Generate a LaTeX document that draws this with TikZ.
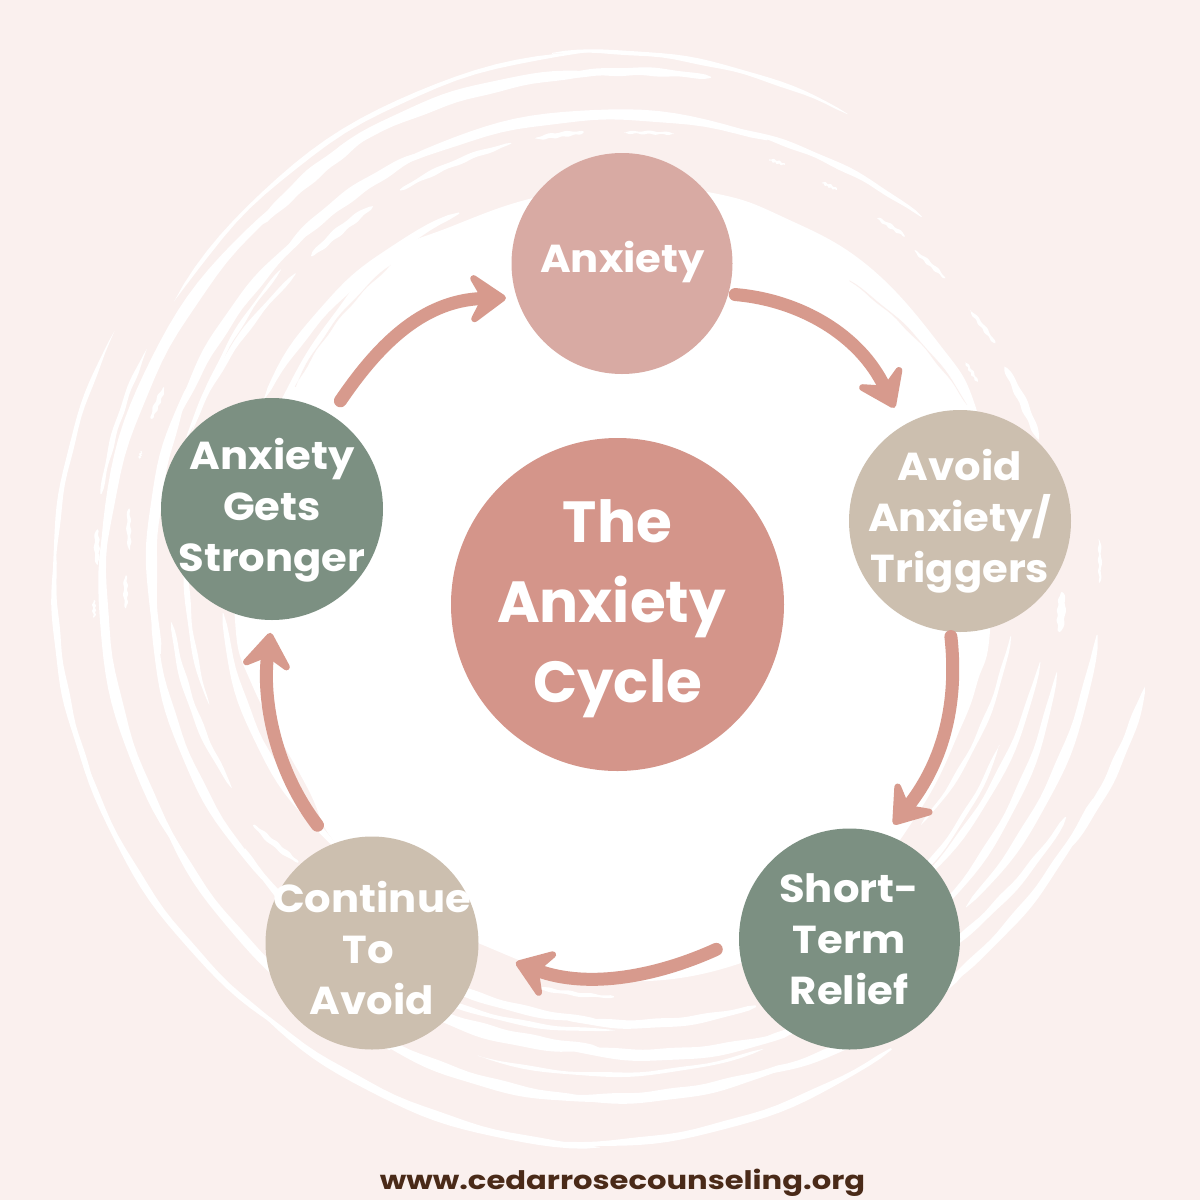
\documentclass[tikz,border=0pt]{standalone}
\usepackage{fontspec}
\setmainfont{Poppins}
\newfontfamily\labelfont[FakeStretch=1.07]{Poppins Bold}
\newfontfamily\titlefont{Poppins Bold}
\newfontfamily\urlfont[FakeStretch=1.2]{Poppins Bold}
\usetikzlibrary{arrows.meta,calc}
\definecolor{bgc}{HTML}{FAF0EE}
\definecolor{rosec}{HTML}{D8AAA3}
\definecolor{tanc}{HTML}{CCBFAF}
\definecolor{greenc}{HTML}{7C9082}
\definecolor{corec}{HTML}{D4958A}
\definecolor{arrowc}{HTML}{D79A8D}
\definecolor{urlc}{HTML}{4A2A18}
\tikzset{
  bub/.style={circle,inner sep=0pt,outer sep=0pt,minimum size=#1},
  lab/.style={text=white,align=center,inner sep=0pt,font=\labelfont\fontsize{39}{51}\selectfont},
  ttl/.style={text=white,align=center,inner sep=0pt,font=\titlefont\fontsize{58}{80}\selectfont},
  flow/.style={draw=arrowc,line width=13pt,line cap=round,
    -{Stealth[length=44pt,width=62pt,inset=17pt,round]}},
}
% tapered brush stroke in polar form about (600,600): t1 r1 t2 r2 width
\newcommand{\brush}[6][white]{%
  \fill[#1] plot[domain=0:1,samples=26]
    ({600+(#3+(#5-#3)*\x+0.5*#6*pow(abs(sin(180*\x))+0.001,0.4)+0.6*sin(1000*\x+#2*13))*cos(#2+(#4-#2)*\x)},
     {600+(#3+(#5-#3)*\x+0.5*#6*pow(abs(sin(180*\x))+0.001,0.4)+0.6*sin(1000*\x+#2*13))*sin(#2+(#4-#2)*\x)})
    -- plot[domain=1:0,samples=26]
    ({600+(#3+(#5-#3)*\x-0.5*#6*pow(abs(sin(180*\x))+0.001,0.4)+0.6*sin(1400*\x+#2*7))*cos(#2+(#4-#2)*\x)},
     {600+(#3+(#5-#3)*\x-0.5*#6*pow(abs(sin(180*\x))+0.001,0.4)+0.6*sin(1400*\x+#2*7))*sin(#2+(#4-#2)*\x)})
    -- cycle;}
\begin{document}
\begin{tikzpicture}[x=1pt,y=-1pt]
\useasboundingbox (0,0) rectangle (1200,1200);
\fill[bgc] (0,0) rectangle (1200,1200);

% white heart of the swirl
\fill[white] plot[smooth cycle,tension=0.7] coordinates {(620,185) (713,193) (783,217) (867,265) (940,345) (975,405)
 (992,500) (990,631) (978,680) (962,725) (920,810) (850,895) (741,963) (600,980) (478,943) (390,895)
 (333,840) (307,787) (253,687) (235,620) (240,500) (290,383) (337,310) (383,257) (450,227) (533,198)};

% long brush rings
\foreach \ta/\ra/\tb/\rb/\wd in {
  297/546/265/549/5, 270/549/215/520/5,
  209/555/179/545/5, 185/547/158/539/7, 165/541/126/534/7, 130/534/90/547/9, 95/545/57/535/8,
  282/534/265/525/8, 270/527/239/520/12, 244/521/228/506/13, 232/510/183/498/12, 190/500/148/488/10,
  155/489/115/496/9, 120/490/90/500/11, 95/498/68/501/11, 72/500/46/521/9, 50/516/22/532/9, 28/530/9/552/10,
  310/500/285/490/6, 290/490/243/479/11, 248/481/228/470/12, 232/471/203/460/11, 208/464/173/443/11,
  178/448/139/436/9, 145/434/110/447/9, 115/445/90/448/14, 95/448/66/473/12, 70/468/43/495/9, 47/490/25/514/8,
  259/465/244/456/6, 240/455/230/449/8, 227/446/201/444/6, 226/459/202/441/4,
  250/412/211/392/10, 177/429/153/413/7, 147/413/139/400/6, 178/377/135/360/9,
  118/412/90/420/9, 95/420/69/435/9, 120/430/88/430/5, 105/472/70/478/4, 100/392/88/397/4,
  5/412/35/392/5, 8/444/45/425/7, 9/462/45/460/8, 4/498/40/478/10, 20/425/50/420/5, 195/420/165/405/5
}{\brush{\ta}{\ra}{\tb}{\rb}{\wd}}

% short flecks
\foreach \ta/\ra/\tb/\rb/\wd in {
  330/467/340/467/8, 322/470/327/471/4, 327/436/330/436/3, 312/470/317/472/4, 306/472/310/475/4,
  298/473/300/474/3, 353/503/358/500/3, 359/462/364/461/8, 262/466/268/468/5, 273/468/279/472/3,
  291/472/293/473/3, 209/518/192/510/5, 206/485/202/484/5, 191/480/186/473/4, 188/508/184/504/5,
  183/475/179/474/4, 180/506/178/506/3, 198/482/197/482/2
}{\brush{\ta}{\ra}{\tb}{\rb}{\wd}}

% faint streaks inside the white
\brush[bgc]{308}{405}{332}{416}{2}
\brush[bgc]{215}{372}{238}{395}{2}

% bubbles
\node[bub=221pt,fill=rosec] (anx) at (622,263.5) {};
\node[bub=222pt,fill=tanc] (av) at (960,521) {};
\node[bub=221pt,fill=greenc] (st) at (849.5,939) {};
\node[bub=213pt,fill=tanc] (con) at (372,943) {};
\node[bub=222pt,fill=greenc] (ags) at (272,509) {};
\node[bub=333pt,fill=corec] (core) at (617.5,604.5) {};

% connectors
\draw[flow,shorten <=7pt,shorten >=20pt] (anx.-16) .. controls (800,300) and (860,335) .. (av.121);
\draw[flow,shorten <=5pt,shorten >=13pt] (av.-95) .. controls (958,700) and (945,760) .. (st.71);
\draw[flow,shorten <=25pt,shorten >=40pt] (st.180) .. controls (660,975) and (590,990) .. (con.-3);
\draw[flow,shorten <=24pt,shorten >=13pt] (con.112) .. controls (275,770) and (262,700) .. (ags.-90);
\draw[flow,shorten <=17pt,shorten >=11pt] (ags.58) .. controls (375,350) and (420,300) .. (anx.198);

% texts
\node[lab] (tanx) at (622.5,262) {Anxiety};
\node[lab] (tav) at (960,521) {Avoid\\Anxiety/\\Triggers};
\node[lab] (tst) at (849,939) {Short-\\Term\\Relief};
\node[lab] (tcon) at (372,948) {Continue\\\mbox{To\kern8pt}\\Avoid};
\node[lab] (tags) at (272,510) {Anxiety\\Gets\\Stronger};
\node[ttl] (tcore) at (617.5,609) {The\\\mbox{Anxiety\kern12pt}\\Cycle};
\node[text=urlc,inner sep=0pt,font=\urlfont\fontsize{25.5}{30}\selectfont] (url) at (622.5,1183) {www.cedarrosecounseling.org};
\end{tikzpicture}
\end{document}
